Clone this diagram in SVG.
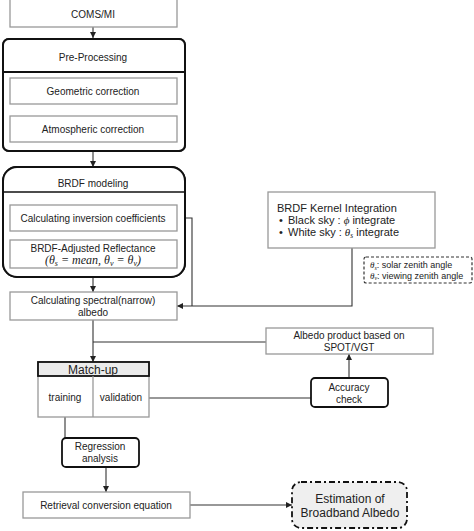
<svg xmlns="http://www.w3.org/2000/svg" width="474" height="531" viewBox="0 0 474 531">
<style>
text{font-family:"Liberation Sans",Arial,sans-serif;font-size:10px;fill:#222;text-anchor:middle}
.box{fill:#fff;stroke:#999;stroke-width:1.3}
.outer{fill:#fff;stroke:#111;stroke-width:2}
.hdr{fill:#ebebeb}
.rbox{fill:#fff;stroke:#111;stroke-width:1.8}
.ln{fill:none;stroke:#333;stroke-width:1.1}
.m{font-family:"Liberation Serif","Times New Roman",serif;font-style:italic}
.sm{font-size:9px;text-anchor:start}
.k{font-size:11px;text-anchor:start}
</style>
<defs>
<marker id="ah" viewBox="0 0 10 10" refX="10" refY="5" markerWidth="6" markerHeight="6" orient="auto" markerUnits="userSpaceOnUse">
<path d="M0,0 L10,5 L0,10 z" fill="#222"/>
</marker>
</defs>
<g id="connectors">
<line class="ln" x1="93" y1="27" x2="93" y2="38" marker-end="url(#ah)"/>
<line class="ln" x1="93" y1="104" x2="93" y2="116" marker-end="url(#ah)"/>
<line class="ln" x1="93" y1="151" x2="93" y2="167" marker-end="url(#ah)"/>
<line class="ln" x1="93" y1="231" x2="93" y2="240" marker-end="url(#ah)"/>
<line class="ln" x1="93" y1="277" x2="93" y2="292" marker-end="url(#ah)"/>
<polyline class="ln" points="177,218 192,218 192,306"/>
<polyline class="ln" points="352,248 352,306 177,306" marker-end="url(#ah)"/>
<line class="ln" x1="93" y1="320" x2="93" y2="362" marker-end="url(#ah)"/>
<line class="ln" x1="93" y1="342" x2="266" y2="342"/>
<line class="ln" x1="149" y1="398" x2="311" y2="398"/>
<line class="ln" x1="349" y1="378" x2="349" y2="354" marker-end="url(#ah)"/>
<line class="ln" x1="65" y1="417" x2="65" y2="438"/>
<line class="ln" x1="106" y1="467" x2="106" y2="492" marker-end="url(#ah)"/>
<line class="ln" x1="190" y1="505" x2="292" y2="505" marker-end="url(#ah)"/>
</g>
<g id="coms">
<rect class="box" x="10" y="-1" width="167" height="28"/>
<text x="93" y="18">COMS/MI</text>
</g>
<g id="preprocessing">
<rect class="outer" x="3" y="39" width="182" height="112" rx="6"/>
<path class="hdr" d="M9,40 H179 A5,5 0 0 1 184,45 V72 H4 V45 A5,5 0 0 1 9,40 z"/>
<rect class="outer" x="3" y="39" width="182" height="112" rx="6" fill="none"/>
<line x1="3" y1="72" x2="185" y2="72" stroke="#111" stroke-width="2"/>
<text x="93" y="61">Pre-Processing</text>
</g>
<g id="geometric">
<rect class="box" x="10" y="78" width="167" height="26"/>
<text x="93" y="95">Geometric correction</text>
</g>
<g id="atmospheric">
<rect class="box" x="10" y="116" width="167" height="26"/>
<text x="93" y="133">Atmospheric correction</text>
</g>
<g id="brdf">
<rect class="outer" x="3" y="167" width="182" height="110" rx="14"/>
<path class="hdr" d="M17,168 H171 A13,13 0 0 1 184,181 V192 H4 V181 A13,13 0 0 1 17,168 z"/>
<rect class="outer" x="3" y="167" width="182" height="110" rx="14" fill="none"/>
<line x1="3" y1="192" x2="185" y2="192" stroke="#111" stroke-width="1.6"/>
<text x="93" y="187">BRDF modeling</text>
</g>
<g id="inversion">
<rect class="box" x="10" y="205" width="167" height="26"/>
<text x="93" y="222">Calculating inversion coefficients</text>
</g>
<g id="adjusted">
<rect class="box" x="10" y="240" width="167" height="28"/>
<text x="93" y="252">BRDF-Adjusted Reflectance</text>
<text x="93" y="264" class="m" style="font-size:12px">(θ<tspan font-size="8" dy="2">s</tspan><tspan dy="-2"> = mean, θ</tspan><tspan font-size="8" dy="2">v</tspan><tspan dy="-2"> = θ</tspan><tspan font-size="8" dy="2">v</tspan><tspan dy="-2">)</tspan></text>
</g>
<g id="spectral">
<rect class="box" x="10" y="292" width="167" height="28"/>
<text x="93" y="304">Calculating spectral(narrow)</text>
<text x="93" y="316">albedo</text>
</g>
<g id="kernel">
<rect class="box" x="268" y="192" width="167" height="56"/>
<text x="277" y="212" class="k">BRDF Kernel Integration</text>
<text x="279" y="224" class="k">•</text>
<text x="288" y="224" class="k">Black sky : <tspan class="m">ϕ</tspan> integrate</text>
<text x="279" y="236" class="k">•</text>
<text x="288" y="236" class="k">White sky : <tspan class="m">θ<tspan font-size="7.5" dy="2">s</tspan></tspan><tspan dy="-2"> integrate</tspan></text>
</g>
<g id="note">
<rect x="364" y="257" width="108" height="26" rx="2" fill="#fff" stroke="#333" stroke-width="1.2" stroke-dasharray="3,2"/>
<text x="370" y="268" class="sm"><tspan class="m">θ</tspan><tspan font-size="6" dy="1.5" class="m">s</tspan><tspan dy="-1.5">: solar zenith angle</tspan></text>
<text x="370" y="278.5" class="sm"><tspan class="m">θ</tspan><tspan font-size="6" dy="1.5" class="m">v</tspan><tspan dy="-1.5">: viewing zenith angle</tspan></text>
</g>
<g id="albedo-product">
<rect class="box" x="266" y="328" width="167" height="26"/>
<text x="349" y="339">Albedo product based on</text>
<text x="349" y="351">SPOT/VGT</text>
</g>
<g id="matchup">
<rect class="box" x="38" y="362" width="111" height="55"/>
<rect x="38" y="362" width="111" height="14" fill="#ebebeb" stroke="#111" stroke-width="1.8"/>
<line x1="93" y1="376" x2="93" y2="417" stroke="#999" stroke-width="1.3"/>
<text x="93" y="374" style="font-size:12px">Match-up</text>
<text x="65" y="401">training</text>
<text x="121" y="401">validation</text>
</g>
<g id="accuracy">
<rect class="rbox" x="311" y="378" width="77" height="29" rx="4"/>
<text x="349" y="391">Accuracy</text>
<text x="349" y="403">check</text>
</g>
<g id="regression">
<rect class="rbox" x="62" y="438" width="77" height="29" rx="4"/>
<text x="100" y="450">Regression</text>
<text x="100" y="462">analysis</text>
</g>
<g id="retrieval">
<rect class="box" x="23" y="492" width="167" height="26"/>
<text x="106" y="509">Retrieval conversion equation</text>
</g>
<g id="estimation">
<rect x="292" y="482" width="115" height="46" rx="9" fill="#efefef" stroke="#111" stroke-width="1.8" stroke-dasharray="6,3,2,3"/>
<text x="350" y="503" style="font-size:12px">Estimation of</text>
<text x="350" y="517" style="font-size:12px">Broadband Albedo</text>
</g>
</svg>
